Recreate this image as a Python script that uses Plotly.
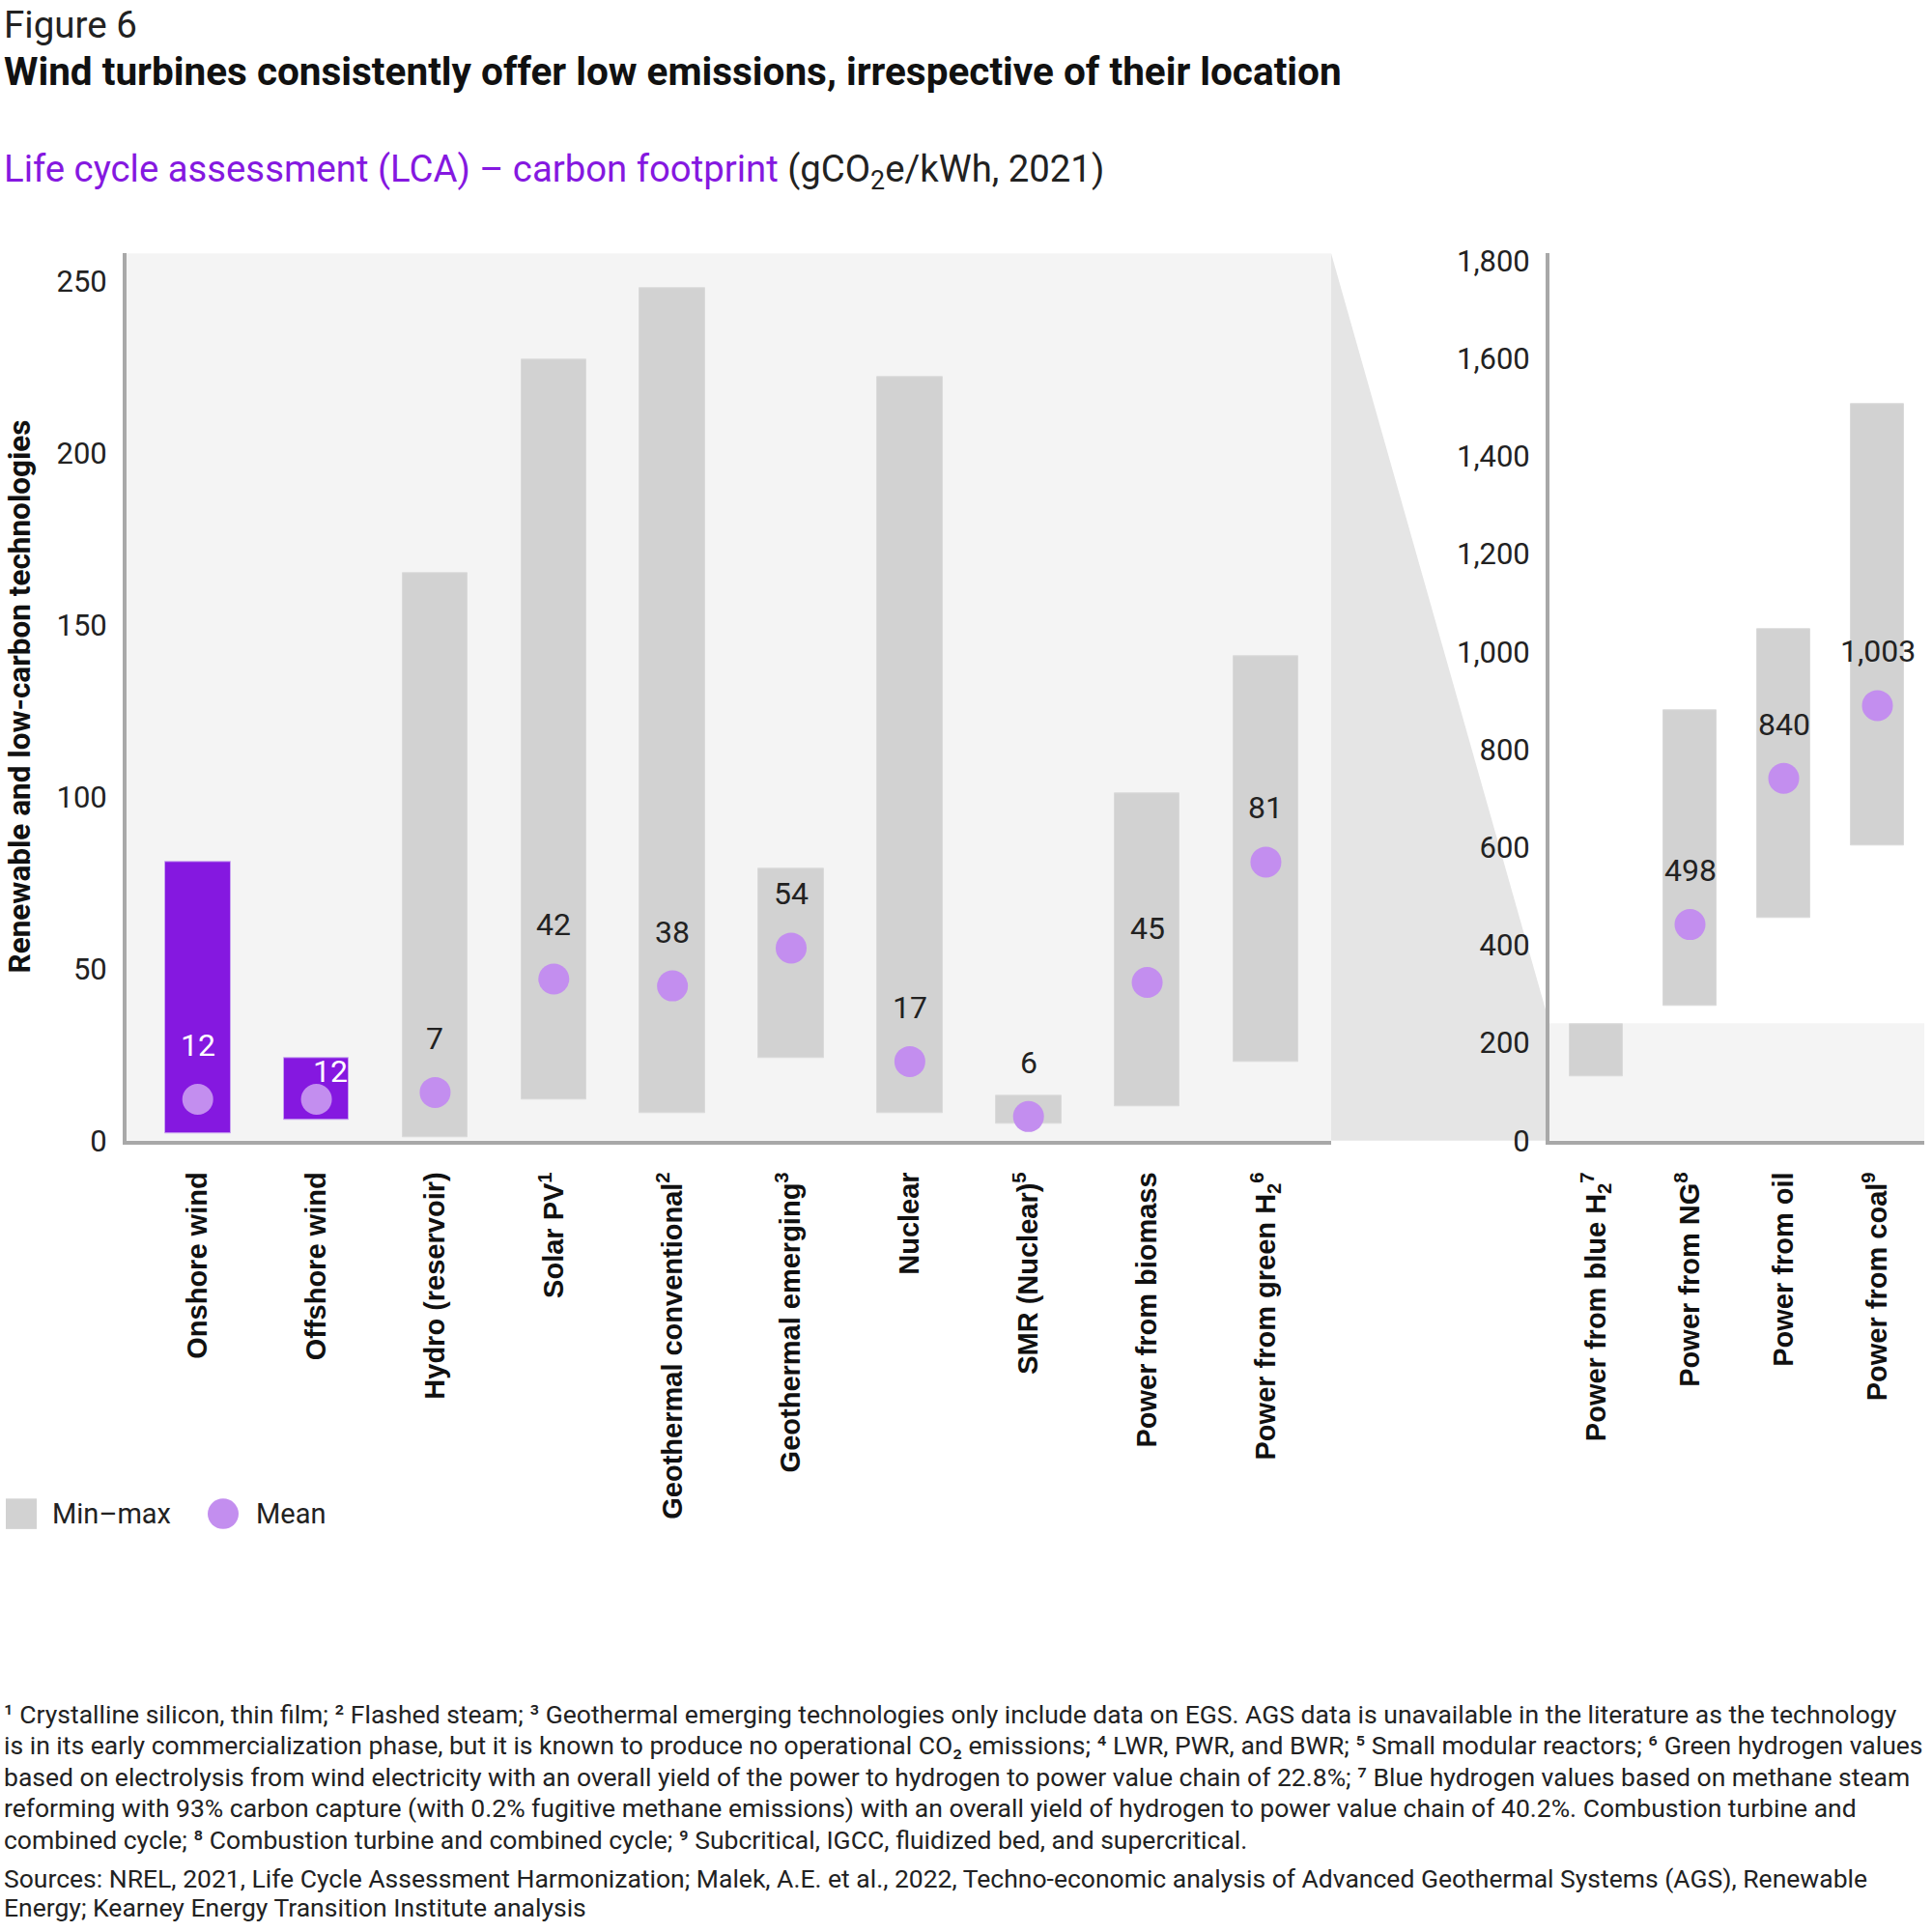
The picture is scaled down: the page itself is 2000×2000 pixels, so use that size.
import plotly.graph_objects as go

# ---------------- data ----------------
left_categories = ["Onshore wind", "Offshore wind", "Hydro (reservoir)", "Solar PV", "Geothermal conventional",
                   "Geothermal emerging", "Nuclear", "SMR (Nuclear)", "Power from biomass", "Power from green H2"]
left_ticktext = ["Onshore wind", "Offshore wind", "Hydro (reservoir)", "Solar PV<sup>1</sup>",
                 "Geothermal conventional<sup>2</sup>", "Geothermal emerging<sup>3</sup>", "Nuclear",
                 "SMR (Nuclear)<sup>5</sup>", "Power from biomass", "Power from green H<sub>2</sub><sup>6</sup>"]
left_min = [2, 6, 1, 12, 8, 24, 8, 5, 10, 23]
left_max = [81, 24, 165, 227, 248, 79, 222, 13, 101, 141]
left_mean = [12, 12, 14, 47, 45, 56, 23, 7, 46, 81]
left_mean_labels = ["12", "12", "7", "42", "38", "54", "17", "6", "45", "81"]
left_highlight = [True, True, False, False, False, False, False, False, False, False]

right_categories = ["Power from blue H2", "Power from NG", "Power from oil", "Power from coal"]
right_ticktext = ["Power from blue H<sub>2</sub><sup>7</sup>", "Power from NG<sup>8</sup>",
                  "Power from oil", "Power from coal<sup>9</sup>"]
right_min = [131, 276, 455, 604]
right_max = [238, 880, 1047, 1507]
right_mean = [None, 442, 741, 890]
right_mean_labels = ["", "498", "840", "1,003"]

left_yticks = [0, 50, 100, 150, 200, 250]
right_yticks = [0, 200, 400, 600, 800, 1000, 1200, 1400, 1600, 1800]
zoom_band_top = 240

footnotes = [
    "¹ Crystalline silicon, thin film; ² Flashed steam; ³ Geothermal emerging technologies only include data on EGS. AGS data is unavailable in the literature as the technology",
    "is in its early commercialization phase, but it is known to produce no operational CO₂ emissions; ⁴ LWR, PWR, and BWR; ⁵ Small modular reactors; ⁶ Green hydrogen values",
    "based on electrolysis from wind electricity with an overall yield of the power to hydrogen to power value chain of 22.8%; ⁷ Blue hydrogen values based on methane steam",
    "reforming with 93% carbon capture (with 0.2% fugitive methane emissions) with an overall yield of hydrogen to power value chain of 40.2%. Combustion turbine and",
    "combined cycle; ⁸ Combustion turbine and combined cycle; ⁹ Subcritical, IGCC, fluidized bed, and supercritical.",
    "Sources: NREL, 2021, Life Cycle Assessment Harmonization; Malek, A.E. et al., 2022, Techno-economic analysis of Advanced Geothermal Systems (AGS), Renewable",
    "Energy; Kearney Energy Transition Institute analysis",
]

# ---------------- style ----------------
FONT = "Roboto"
TICKFONT = "Liberation Sans"
TXT = "#222222"
PURPLE = "#8518E0"
DOT = "#C38EEF"
GREY_BAR = "#D2D2D2"
BG = "#F4F4F4"
FUNNEL = "#E5E5E5"
AXIS = "#A8A8A8"
W = H = 2000

def px(v):
    return v / W

def py(v):
    return 1 - v / H

left_dom_x = [px(131), px(1378)]
right_dom_x = [px(1604), px(1992)]
dom_y = [py(1188), py(256)]
left_range = [0, 258]
right_range = [0, 1815]

fig = go.Figure()

# left bars
fig.add_trace(go.Bar(
    x=left_categories, y=[mx - mn for mn, mx in zip(left_min, left_max)], base=left_min,
    marker=dict(color=[PURPLE if h else GREY_BAR for h in left_highlight],
                line=dict(color=["#C9A3F0" if h else "#DADADA" for h in left_highlight], width=1)),
    width=0.55, xaxis="x", yaxis="y", showlegend=False, hoverinfo="skip"))
fig.add_trace(go.Scatter(
    x=left_categories, y=left_mean, mode="markers",
    marker=dict(size=32, color=DOT), xaxis="x", yaxis="y", showlegend=False))

# right bars
fig.add_trace(go.Bar(
    x=right_categories, y=[mx - mn for mn, mx in zip(right_min, right_max)], base=right_min,
    marker=dict(color=GREY_BAR, line=dict(color="#DADADA", width=1)),
    width=0.56, xaxis="x2", yaxis="y2", showlegend=False, hoverinfo="skip"))
fig.add_trace(go.Scatter(
    x=right_categories, y=right_mean, mode="markers",
    marker=dict(size=32, color=DOT), xaxis="x2", yaxis="y2", showlegend=False))

annotations = []
# mean labels
for i, (c, v, t) in enumerate(zip(left_categories, left_mean, left_mean_labels)):
    xs, ys = 0, 56
    if i == 1:
        xs, ys = 14, 29
    annotations.append(dict(x=c, y=v, xref="x", yref="y", text=t, showarrow=False,
                            xshift=xs, yshift=ys,
                            font=dict(family=FONT, size=32, color="white" if left_highlight[i] else TXT)))
for c, v, t in zip(right_categories, right_mean, right_mean_labels):
    if v is None:
        continue
    annotations.append(dict(x=c, y=v, xref="x2", yref="y2", text=t, showarrow=False, yshift=56,
                            font=dict(family=FONT, size=32, color=TXT)))

# titles
annotations += [
    dict(x=px(2), y=py(16), xref="paper", yref="paper", xanchor="left", yanchor="middle",
         text="Figure 6", showarrow=False, font=dict(family=FONT, size=38.5, color=TXT)),
    dict(x=px(2), y=py(65), xref="paper", yref="paper", xanchor="left", yanchor="middle",
         text="<b>Wind turbines consistently offer low emissions, irrespective of their location</b>",
         showarrow=False, font=dict(family=FONT, size=40.5, color="#111111")),
    dict(x=px(2), y=py(170), xref="paper", yref="paper", xanchor="left", yanchor="middle",
         text=f"<span style='color:{PURPLE}'>Life cycle assessment (LCA) – carbon footprint</span> (gCO<sub>2</sub>e/kWh, 2021)",
         showarrow=False, font=dict(family=FONT, size=38.3, color=TXT)),
    dict(x=px(21), y=(dom_y[0] + dom_y[1]) / 2, xref="paper", yref="paper", xanchor="center", yanchor="middle",
         text="<b>Renewable and low-carbon technologies</b>", textangle=-90, showarrow=False,
         font=dict(family=FONT, size=31.5, color="#111111")),
    dict(x=px(52), y=py(1580), xref="paper", yref="paper", xanchor="left", yanchor="middle",
         text="Min–max", showarrow=False, font=dict(family=FONT, size=29, color=TXT)),
    dict(x=px(263), y=py(1580), xref="paper", yref="paper", xanchor="left", yanchor="middle",
         text="Mean", showarrow=False, font=dict(family=FONT, size=29, color=TXT)),
]
foot_y = [1790, 1823, 1856, 1889, 1922, 1963, 1993]
for line, yy in zip(footnotes, foot_y):
    annotations.append(dict(x=px(2), y=py(yy), xref="paper", yref="paper", xanchor="left", yanchor="middle",
                            text=line, showarrow=False, font=dict(family=FONT, size=26.5, color=TXT)))

band_top_paper = dom_y[0] + (zoom_band_top - right_range[0]) / (right_range[1] - right_range[0]) * (dom_y[1] - dom_y[0])

shapes = [
    # left panel background
    dict(type="rect", xref="x domain", yref="y domain", x0=0, x1=1, y0=0, y1=1,
         fillcolor=BG, line=dict(width=0), layer="below"),
    # zoom funnel
    dict(type="path", xref="paper", yref="paper",
         path=f"M {left_dom_x[1]},{dom_y[1]} L {right_dom_x[0]},{band_top_paper} L {right_dom_x[0]},{dom_y[0]} L {left_dom_x[1]},{dom_y[0]} Z",
         fillcolor=FUNNEL, line=dict(width=0), layer="below"),
    # right zoom band
    dict(type="rect", xref="x2 domain", yref="y2", x0=0, x1=1, y0=0, y1=zoom_band_top,
         fillcolor=BG, line=dict(width=0), layer="below"),
    # legend markers
    dict(type="rect", xref="paper", yref="paper", x0=px(6), x1=px(38), y0=py(1596), y1=py(1564),
         fillcolor=GREY_BAR, line=dict(width=0)),
    dict(type="circle", xref="paper", yref="paper", x0=px(215), x1=px(247), y0=py(1596), y1=py(1564),
         fillcolor=DOT, line=dict(width=0)),
]

axis_common = dict(showgrid=False, zeroline=False, showline=True, linecolor=AXIS, linewidth=4, ticks="")

fig.update_layout(
    width=W, height=H, margin=dict(l=0, r=0, t=0, b=0),
    paper_bgcolor="white", plot_bgcolor="rgba(0,0,0,0)",
    font=dict(family=FONT, color=TXT),
    bargap=0, annotations=annotations, shapes=shapes,
    xaxis=dict(domain=left_dom_x, anchor="y", type="category", categoryorder="array",
               categoryarray=left_categories, tickvals=left_categories, ticktext=left_ticktext,
               range=[-0.6, 9.55], tickangle=-90, ticklabelstandoff=17,
               tickfont=dict(family=TICKFONT, size=29, color="#111111", weight="bold"), **axis_common),
    yaxis=dict(domain=dom_y, anchor="x", range=left_range, tickvals=left_yticks,
               ticklabelstandoff=10, tickfont=dict(family=FONT, size=31, color=TXT), **axis_common),
    xaxis2=dict(domain=right_dom_x, anchor="y2", type="category", categoryorder="array",
                categoryarray=right_categories, tickvals=right_categories, ticktext=right_ticktext,
                range=[-0.5, 3.5], tickangle=-90, ticklabelstandoff=17,
                tickfont=dict(family=TICKFONT, size=29, color="#111111", weight="bold"), **axis_common),
    yaxis2=dict(domain=dom_y, anchor="x2", range=right_range, tickvals=right_yticks, tickformat=",",
                ticklabelstandoff=10, tickfont=dict(family=FONT, size=31, color=TXT), **axis_common),
)

fig.write_html("out.html", config={"displayModeBar": False},
               post_script="document.body.style.margin='0';document.body.style.overflow='hidden';")
